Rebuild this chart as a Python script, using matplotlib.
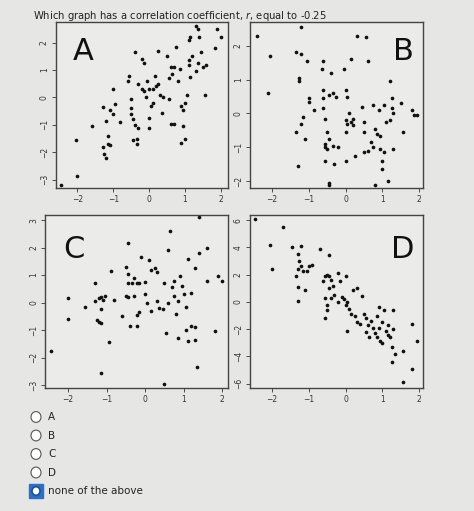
import matplotlib
matplotlib.use("Agg")
import matplotlib.pyplot as plt

A_x=[-2.45,-2.0,-2.05,-1.6,-1.3,-1.25,-1.2,-1.15,-1.1,-1.15,-1.2,-1.3,-1.1,-1.0,-0.95,-1.0,-0.8,-0.6,-0.55,-0.5,-0.5,-0.45,-0.45,-0.4,-0.35,-0.35,-0.3,-0.4,-0.3,-0.5,-0.2,-0.2,-0.15,-0.15,-0.1,-0.05,0.0,0.0,0.0,0.05,0.1,0.1,0.15,0.2,0.25,0.25,0.3,0.35,0.4,0.5,0.55,0.55,0.6,0.65,0.7,0.7,0.75,0.8,0.85,0.9,0.95,0.9,1.0,0.95,1.0,1.05,1.1,1.1,1.15,1.1,1.15,1.2,1.3,1.35,1.35,1.4,1.45,1.5,1.6,1.55,1.85,1.9,2.0,1.3,0.6]
A_y=[-3.2,-2.85,-1.55,-1.05,-1.8,-2.05,-2.2,-1.7,-1.75,-1.4,-0.85,-0.35,-0.45,-0.6,-0.25,0.3,-0.9,0.6,0.8,-0.4,-0.6,-0.8,-1.55,-1.0,-1.5,-1.7,-1.1,1.65,0.5,-0.05,0.3,1.4,1.25,0.25,0.0,0.6,0.3,-0.75,-1.1,-0.3,0.3,-0.2,0.8,0.4,0.5,1.7,0.1,-0.55,0.0,1.5,0.7,-0.05,1.1,0.85,-0.95,1.1,1.85,0.6,1.05,-0.3,-0.45,-1.65,-1.5,-1.05,-0.2,0.1,1.2,1.35,0.75,2.1,2.2,1.5,2.6,2.5,1.25,2.2,1.65,1.1,1.2,0.1,1.8,2.5,2.2,0.95,-0.95]

B_x=[-2.4,-2.05,-2.1,-1.2,-1.35,-1.2,-1.05,-1.25,-1.25,-1.0,-1.0,-0.85,-1.15,-1.2,-1.35,-1.1,-1.3,-0.65,-0.6,-0.4,-0.6,-0.6,-0.6,-0.55,-0.45,-0.35,-0.25,-0.5,-0.45,-0.55,-0.55,-0.5,-0.35,-0.2,-0.55,-0.3,-0.45,-0.45,-0.05,0.0,0.05,0.1,0.0,0.05,0.15,0.2,0.0,0.2,0.0,0.25,0.15,0.3,0.55,0.6,0.45,0.5,0.5,0.5,0.6,0.75,0.7,0.75,0.8,0.85,0.8,0.9,0.95,0.95,1.0,1.0,1.05,1.05,1.1,1.15,1.2,1.2,1.25,1.25,1.3,1.3,1.5,1.55,1.8,1.85,1.95]
B_y=[2.3,1.7,0.6,2.55,1.8,1.75,1.55,1.05,0.95,0.45,0.35,0.1,-0.1,-0.3,-0.55,-0.75,-1.55,1.3,1.55,1.2,0.7,0.45,0.15,-0.15,0.55,0.6,0.5,-0.55,-0.75,-0.9,-1.0,-1.05,-0.95,-1.0,-1.4,-1.5,-2.05,-2.1,1.3,0.7,0.5,0.0,-0.2,-0.3,-0.25,-0.35,-0.55,-0.15,-1.4,-1.25,1.6,2.3,2.25,1.55,0.2,-0.25,-0.55,-1.15,-1.1,-1.0,-0.85,0.25,-0.45,-0.6,-2.1,0.1,-0.65,-1.05,-1.4,-1.65,0.25,-1.15,-0.25,-2.0,0.95,-0.2,0.45,0.15,0.0,-1.05,0.3,-0.55,0.1,-0.05,-0.05]

C_x=[-2.45,-2.0,-2.0,-1.55,-1.3,-1.3,-1.2,-1.15,-1.1,-1.05,-1.15,-1.25,-1.15,-1.2,-0.95,-1.15,-0.9,-0.8,-0.6,-0.5,-0.45,-0.5,-0.45,-0.45,-0.45,-0.4,-0.35,-0.3,-0.3,-0.2,-0.2,-0.15,-0.1,-0.15,-0.2,0.0,0.0,0.05,0.1,0.15,0.15,0.25,0.3,0.3,0.35,0.45,0.5,0.5,0.55,0.6,0.6,0.65,0.7,0.75,0.75,0.8,0.85,0.85,0.9,0.95,1.0,1.05,1.05,1.1,1.1,1.2,1.2,1.3,1.3,1.3,1.35,1.4,1.4,1.6,1.6,1.8,1.9,2.0]
C_y=[-1.75,0.15,-0.6,-0.15,0.7,0.05,0.15,0.2,0.1,0.25,-0.25,-0.65,-0.75,-0.7,-1.45,-2.55,1.15,0.1,-0.5,0.25,0.2,1.3,1.05,0.7,2.15,-0.85,0.7,0.25,0.9,0.7,-0.45,0.7,1.65,-0.35,-0.85,0.3,0.75,0.0,1.55,-0.3,1.2,1.25,1.1,0.05,-0.2,-0.25,0.7,-2.95,-1.1,0.0,1.9,2.6,0.55,0.25,0.8,-0.4,0.05,-1.3,0.95,0.6,0.3,-0.15,-1.0,-1.4,1.6,0.35,-0.85,-0.9,1.25,-1.35,-2.35,1.8,3.1,2.0,0.8,-1.05,0.95,0.8]

D_x=[-2.45,-1.7,-2.05,-2.0,-1.45,-1.2,-1.3,-1.25,-1.3,-1.2,-1.15,-1.0,-0.9,-1.35,-1.3,-1.3,-1.1,-1.05,-0.7,-0.45,-0.6,-0.55,-0.5,-0.45,-0.4,-0.35,-0.45,-0.55,-0.5,-0.5,-0.55,-0.4,-0.3,-0.2,-0.2,-0.15,-0.1,-0.05,0.0,0.0,0.05,0.05,0.1,0.15,0.2,0.25,0.3,0.3,0.4,0.45,0.5,0.55,0.55,0.6,0.65,0.7,0.75,0.8,0.85,0.85,0.9,0.9,0.95,1.0,1.0,1.05,1.1,1.15,1.15,1.2,1.25,1.25,1.3,1.3,1.35,1.55,1.55,1.8,1.8,1.95]
D_y=[6.1,5.5,4.2,2.4,4.0,4.1,3.5,3.0,2.4,2.6,2.3,2.6,2.7,1.9,1.1,0.1,0.9,2.3,3.9,3.45,1.5,1.9,2.0,1.9,1.6,1.2,1.0,0.3,-0.2,-0.6,-1.15,0.3,0.5,0.0,2.1,1.5,0.35,0.2,1.9,-0.2,0.0,-2.1,-0.5,-0.9,0.9,-1.0,1.0,-1.5,-1.6,0.4,-0.9,-1.2,-2.2,-1.7,-2.6,-1.4,-1.9,-2.3,-1.0,-2.6,-0.4,-1.9,-2.9,-3.0,-1.5,-0.6,-2.1,-1.7,-2.4,-2.6,-4.4,-3.3,-0.6,-2.0,-3.8,-3.6,-5.9,-1.6,-4.9,-2.9]

bg = "#e6e6e4"
fig = plt.figure(figsize=(4.74, 5.11), dpi=100, facecolor=bg)

panels = [
    ("A", A_x, A_y, [0.118, 0.632, 0.363, 0.325], (-2.6, 2.2), (-3.3, 2.75), [-3,-2,-1,0,1,2], (0.1, 0.82), "left"),
    ("B", B_x, B_y, [0.527, 0.632, 0.365, 0.325], (-2.6, 2.1), (-2.2, 2.7), [-2,-1,0,1,2], (0.95, 0.82), "right"),
    ("C", C_x, C_y, [0.095, 0.241, 0.386, 0.339], (-2.6, 2.15), (-3.1, 3.2), [-3,-2,-1,0,1,2,3], (0.1, 0.8), "left"),
    ("D", D_x, D_y, [0.527, 0.241, 0.365, 0.339], (-2.6, 2.1), (-6.3, 6.4), [-6,-4,-2,0,2,4,6], (0.95, 0.8), "right"),
]
for lab, xs, ys, rect, xl, yl, yt, lp, ha in panels:
    ax = fig.add_axes(rect, facecolor="#ebebea")
    ax.scatter(xs, ys, s=7, color="#111111", linewidths=0)
    ax.set_xlim(*xl); ax.set_ylim(*yl)
    ax.set_xticks([-2,-1,0,1,2]); ax.set_yticks(yt)
    ax.tick_params(labelsize=5.5, length=3, width=0.6, colors="#333333", pad=2)
    for t in ax.get_yticklabels():
        t.set_rotation(90); t.set_va("center")
    for s in ax.spines.values():
        s.set_linewidth(1.0); s.set_color("#444444")
    ax.text(lp[0], lp[1], lab, transform=ax.transAxes, fontsize=22, ha=ha, va="center", color="#111111")

fig.text(0.07, 0.982, "Which graph has a correlation coefficient, $r$, equal to -0.25",
         fontsize=7.2, ha="left", va="top", color="#222222")

options = ["A", "B", "C", "D", "none of the above"]
for i, o in enumerate(options):
    yy = 1 - (417 + i * 18.5) / 511
    if i < 4:
        fig.patches.append(matplotlib.patches.Circle((36/474, yy), 5/474, transform=fig.transFigure,
                           facecolor="white", edgecolor="#555555", linewidth=0.8))
    else:
        fig.patches.append(matplotlib.patches.Rectangle((29/474, yy - 7/511), 14/474, 14/511, transform=fig.transFigure,
                           facecolor="#2a6fc9", edgecolor="#2a6fc9"))
        fig.patches.append(matplotlib.patches.Circle((36/474, yy), 4/474, transform=fig.transFigure,
                           facecolor="white", edgecolor="#1a4f99", linewidth=1.2))
    fig.text(48/474, yy, o, fontsize=7.5, va="center", ha="left", color="#222222")

fig.savefig("out.png", dpi=100, facecolor=bg)
